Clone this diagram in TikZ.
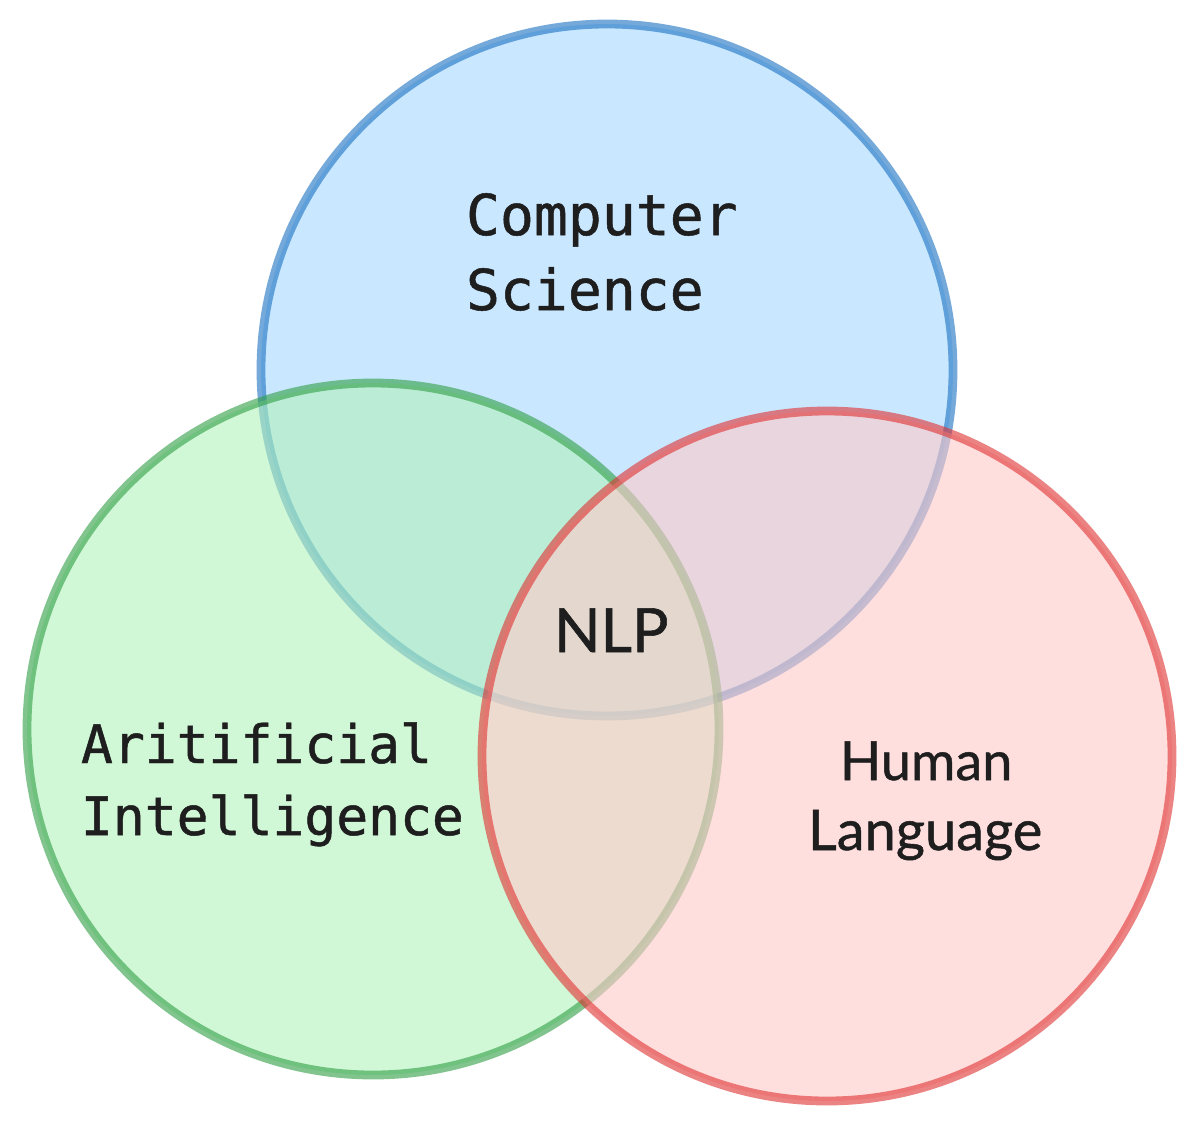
\documentclass[tikz,border=0pt]{standalone}
\usepackage{fontspec}
\newfontfamily\monofont[RawFeature={embolden=0.9}]{DejaVu Sans Mono}
\newfontfamily\handfont[RawFeature={embolden=0.9}]{Lato}
\definecolor{bluefill}{HTML}{A5D8FF}
\definecolor{bluestroke}{HTML}{1971C2}
\definecolor{greenfill}{HTML}{B2F2BB}
\definecolor{greenstroke}{HTML}{2F9E44}
\definecolor{redfill}{HTML}{FFC9C9}
\definecolor{redstroke}{HTML}{E03131}
\definecolor{ink}{HTML}{1E1E1E}
\tikzset{
  venn/.style={line width=4.4pt, fill opacity=0.6, draw opacity=0.6},
  label/.style={inner sep=0pt, outer sep=0pt, anchor=base west, text=ink},
  monobig/.style={label, font=\monofont\fontsize{28.2}{34}\selectfont},
  monosmall/.style={label, font=\monofont\fontsize{26.5}{32}\selectfont},
  hand/.style={label, font=\handfont\fontsize{27}{33}\selectfont},
}
\begin{document}
\begin{tikzpicture}[x=0.5pt,y=-0.5pt]
\useasboundingbox (0,0) rectangle (1200,1125);
\fill[white] (0,0) rectangle (1200,1125);
\path[venn, fill=bluefill, draw=bluestroke] (607,370) circle[radius=346];
\path[venn, fill=greenfill, draw=greenstroke] (373,729) circle[radius=346];
\path[venn, fill=redfill, draw=redstroke] (827,756) circle[radius=345];
\node[monobig] (cs1) at (466,235) {Computer};
\node[monobig] (cs2) at (466,310) {Science};
\node[monosmall] (ai1) at (81,763) {Aritificial};
\node[monosmall] (ai2) at (81,835) {Intelligence};
\node[hand] (hl1) at (840,780) {Human};
\node[hand, font=\handfont\fontsize{28}{33}\selectfont] (hl2) at (808,850) {Language};
\node[hand, font=\handfont\fontsize{30.5}{36}\selectfont] (nlp) at (554,652) {NLP};
\end{tikzpicture}
\end{document}
